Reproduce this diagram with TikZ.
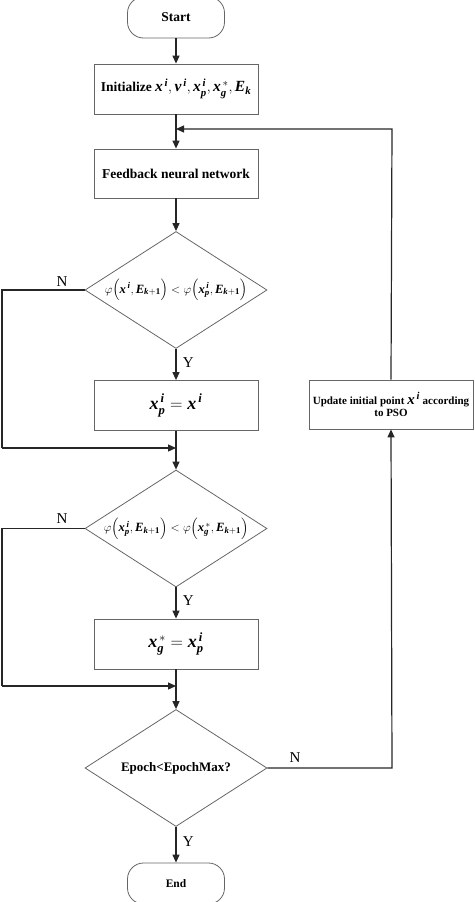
\documentclass[tikz,border=0pt]{standalone}
\usepackage{amsmath}
\usepackage{fontspec}
\setmainfont{Liberation Serif}
\usetikzlibrary{shapes.geometric,arrows.meta}
\newcommand\mv[1]{\text{\bfseries\itshape #1}}
\newcommand\mb[1]{\text{\bfseries #1}}
\begin{document}
\begin{tikzpicture}[x=1pt,y=-1pt,
  box/.style={draw=black!60,line width=0.8pt,minimum width=164pt,minimum height=50pt,inner sep=2pt,align=center},
  term/.style={draw=black!60,line width=0.8pt,rounded corners=16pt,minimum width=97pt,minimum height=41pt},
  dia/.style={draw=black!60,line width=0.8pt,diamond,minimum width=182pt,minimum height=117pt,inner sep=0pt},
  arr/.style={draw=black!85,line width=1.2pt,-{Triangle[length=8pt,width=7pt]}},
  ln/.style={draw=black!85,line width=1.2pt},
  lab/.style={font=\fontsize{15}{17}\selectfont},
  txt/.style={font=\fontsize{13.5}{16}\selectfont\bfseries}
]
\useasboundingbox (0,0) rectangle (474,902);
\clip (0,0) rectangle (474,902);
% nodes
\node[term,txt] (start) at (176,17.5) {Start};
\node[box,txt] (init) at (176,89) {Initialize {\fontsize{15.5}{17}\selectfont$\mv{x}^{\,\mv{i}},\mv{v}^{\,\mv{i}},\mv{x}^{\,\mv{i}}_{\mv{p}\vphantom{l}},\mv{x}^{\,*}_{\mv{g}\vphantom{l}},\mv{E}_{\mv{k}}$}};
\node[box,txt,minimum height=49pt] (fb) at (176,173.5) {Feedback neural network};
\node[dia] (d1) at (176,290) {};
\node[font=\fontsize{12.6}{15}\selectfont] (t1) at (d1.center) {$\varphi\Big(\mv{x}^{\,\mv{i}},\mv{E}_{\mv{k}+\mb{1}}\Big) < \varphi\Big(\mv{x}^{\,\mv{i}}_{\mv{p}},\mv{E}_{\mv{k}+\mb{1}}\Big)$};
\node[box,font=\fontsize{18}{20}\selectfont] (xp) at (176,405.5) {$\mv{x}^{\,\mv{i}}_{\mv{p}\vphantom{l}} = \mv{x}^{\,\mv{i}}$};
\node[box,minimum height=49pt,font=\fontsize{11}{12.5}\selectfont\bfseries] (upd) at (391,404.5) {Update initial point {\fontsize{15}{15}\selectfont$\mv{x}^{\,\mv{i}}$} according\\to PSO};
\node[dia] (d2) at (176,528.5) {};
\node[font=\fontsize{12.6}{15}\selectfont] (t2) at (d2.center) {$\varphi\Big(\mv{x}^{\,\mv{i}}_{\mv{p}},\mv{E}_{\mv{k}+\mb{1}}\Big) < \varphi\Big(\mv{x}^{\,*}_{\mv{g}},\mv{E}_{\mv{k}+\mb{1}}\Big)$};
\node[box,font=\fontsize{18}{20}\selectfont] (xg) at (176,644) {$\mv{x}^{\,*}_{\mv{g}\vphantom{l}} = \mv{x}^{\,\mv{i}}_{\mv{p}\vphantom{l}}$};
\node[dia] (d3) at (176,768) {};
\node[font=\fontsize{13}{15}\selectfont\bfseries] (t3) at (d3.center) {Epoch<EpochMax?};
\node[term,font=\fontsize{11.5}{13}\selectfont\bfseries] (end) at (176,883.5) {End};
% merge and corner coordinates
\coordinate (m0) at (176,129);
\coordinate (m1) at (176,448);
\coordinate (m2) at (176,686);
\coordinate (c1a) at (2,290);
\coordinate (c1b) at (2,448);
\coordinate (c2a) at (2,528.5);
\coordinate (c2b) at (2,686);
\coordinate (c3a) at (392,768);
\coordinate (c3b) at (392,129);
% connectors
\draw[arr] (start) -- (init);
\draw[arr] (init) -- (fb);
\draw[arr] (fb) -- (d1);
\draw[arr] (d1) -- node[lab,right=3pt,pos=0.45]{Y} (xp);
\draw[arr] (xp) -- (d2);
\draw[arr] (d2) -- node[lab,right=3pt,pos=0.42]{Y} (xg);
\draw[arr] (xg) -- (d3);
\draw[arr] (d3) -- node[lab,right=3pt,pos=0.42]{Y} (end);
\draw[ln,line width=1.6pt] (d1.west) -- (c1a) -- (c1b);
\draw[arr] (c1b) -- (m1);
\draw[ln,line width=1.6pt] (d2.west) -- (c2a) -- (c2b);
\draw[arr] (c2b) -- (m2);
\draw[arr] (d3.east) -- (c3a) -- (upd.south);
\draw[arr] (upd.north) -- (c3b) -- (m0);
\node[lab] (n1) at (62,282) {N};
\node[lab] (n2) at (62,519) {N};
\node[lab] (n3) at (295,758) {N};
\end{tikzpicture}
\end{document}
